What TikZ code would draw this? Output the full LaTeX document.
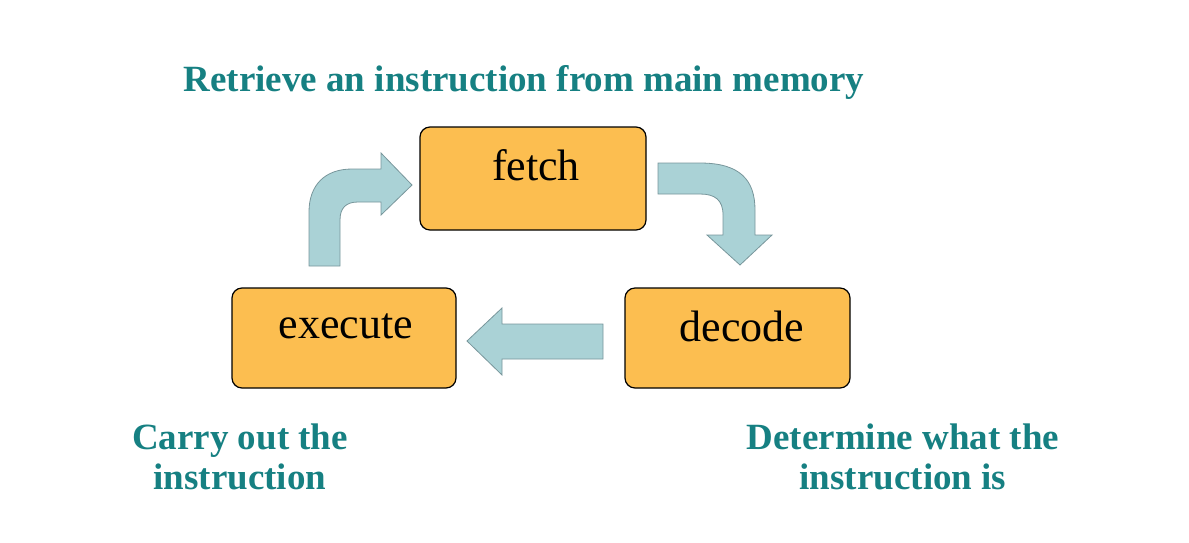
\documentclass[tikz,border=0pt]{standalone}
\usepackage{fontspec}
\setmainfont{Liberation Serif}
\definecolor{boxfill}{RGB}{252,190,80}
\definecolor{arrfill}{RGB}{170,210,214}
\definecolor{arrline}{RGB}{120,150,155}
\definecolor{teal}{RGB}{22,128,130}
\begin{document}
\begin{tikzpicture}[x=1pt,y=-1pt,
  box/.style={draw=black,line width=1.2pt,fill=boxfill,rounded corners=10pt},
  arr/.style={draw=arrline,line width=0.8pt,fill=arrfill},
  lbl/.style={text=teal,font=\bfseries\fontsize{37}{40}\selectfont,align=center},
  btxt/.style={font=\fontsize{44}{48}\selectfont}]
\useasboundingbox (0,0) rectangle (1189,542);
\draw[box] (420,127) rectangle (646,230);
\draw[box] (232,288) rectangle (456,388);
\draw[box] (625,288) rectangle (850,388);
\node[btxt] (fetch) at (536,165) {fetch};
\node[btxt] (execute) at (346,326) {execute};
\node[btxt] (decode) at (742,326) {decode};
% execute -> fetch
\draw[arr] (309,266) -- (309,212) .. controls (309,185) and (325,169) .. (352,169)
  -- (381,169) -- (381,153) -- (412,185) -- (381,215) -- (381,202) -- (358,202)
  .. controls (346,202) and (340,208) .. (340,220) -- (340,266) -- cycle;
% fetch -> decode
\draw[arr] (658,163) -- (700,163) .. controls (740,163) and (755,180) .. (755,210)
  -- (755,235) -- (772,235) -- (740,265) -- (707,235) -- (723,235) -- (723,215)
  .. controls (723,200) and (715,194) .. (700,194) -- (658,194) -- cycle;
% decode -> execute
\draw[arr] (603,324) -- (502,324) -- (502,308) -- (467,341) -- (502,375) -- (502,359) -- (603,359) -- cycle;
\node[lbl] (t1) at (524,82) {Retrieve an instruction from main memory};
\node[lbl] (t2) at (240,457) {Carry out the\\instruction};
\node[lbl] (t3) at (903,457) {Determine what the\\instruction is};
\end{tikzpicture}
\end{document}
